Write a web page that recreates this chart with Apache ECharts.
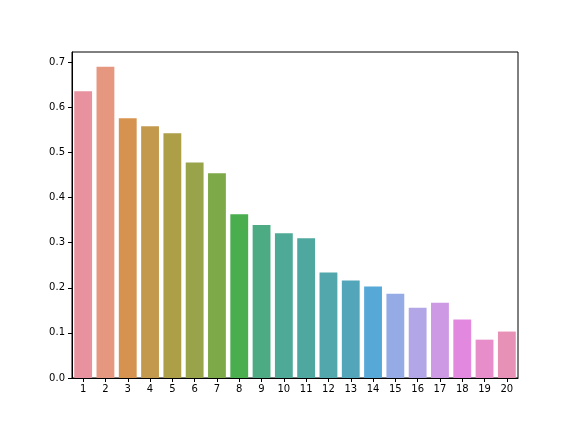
<!DOCTYPE html>
<html>
<head>
<meta charset="utf-8">
<script src="https://cdn.jsdelivr.net/npm/echarts@6/dist/echarts.min.js"></script>
<style>html,body{margin:0;padding:0;background:#fff}#c{width:576px;height:432px}</style>
</head>
<body>
<div id="c"></div>
<script>
var categories = ['1','2','3','4','5','6','7','8','9','10','11','12','13','14','15','16','17','18','19','20'];
var values = [0.636,0.690,0.576,0.558,0.543,0.478,0.454,0.363,0.339,0.321,0.310,0.234,0.216,0.203,0.187,0.156,0.167,0.130,0.085,0.103];
var colors = ['#e7929e','#e6977f','#d6924f','#c39a4d','#ad9e48','#98a34a','#7ea948','#4aae4f','#4dab84','#4eaa96','#4fa8a0','#51a7ab','#53a6b9','#56a8d7','#94abe5','#b3a6e6','#cd98e4','#e388df','#e78dc9','#e891b7'];
var yTicks = [0,0.1,0.2,0.3,0.4,0.5,0.6,0.7];

var chart = echarts.init(document.getElementById('c'), null, {renderer:'canvas'});
var font = 'DejaVu Sans';
chart.setOption({
  animation: false,
  grid: {left:72, right:58, top:52, bottom:54, show:true, borderColor:'#000', borderWidth:1, backgroundColor:'transparent'},
  xAxis: {
    type:'category', data: categories,
    axisLine:{show:true, lineStyle:{color:'#000', width:1}},
    axisTick:{show:true, alignWithLabel:true, length:4, lineStyle:{color:'#000'}},
    axisLabel:{color:'#000', fontFamily:font, fontSize:10, margin:6, interval:0},
    splitLine:{show:false}
  },
  yAxis: {
    type:'value', min:0, max:0.7229,
    axisLine:{show:true, lineStyle:{color:'#000', width:1}},
    axisTick:{show:true, length:4, lineStyle:{color:'#000'}, customValues: yTicks},
    axisLabel:{color:'#000', fontFamily:font, fontSize:10, margin:7, customValues: yTicks,
      formatter:function(v){return v.toFixed(1);}},
    splitLine:{show:false}
  },
  series: [{
    type:'bar',
    data: values.map(function(v,i){return {value:v, itemStyle:{color:colors[i]}};}),
    barCategoryGap:'20%'
  }]
});
</script>
</body>
</html>
